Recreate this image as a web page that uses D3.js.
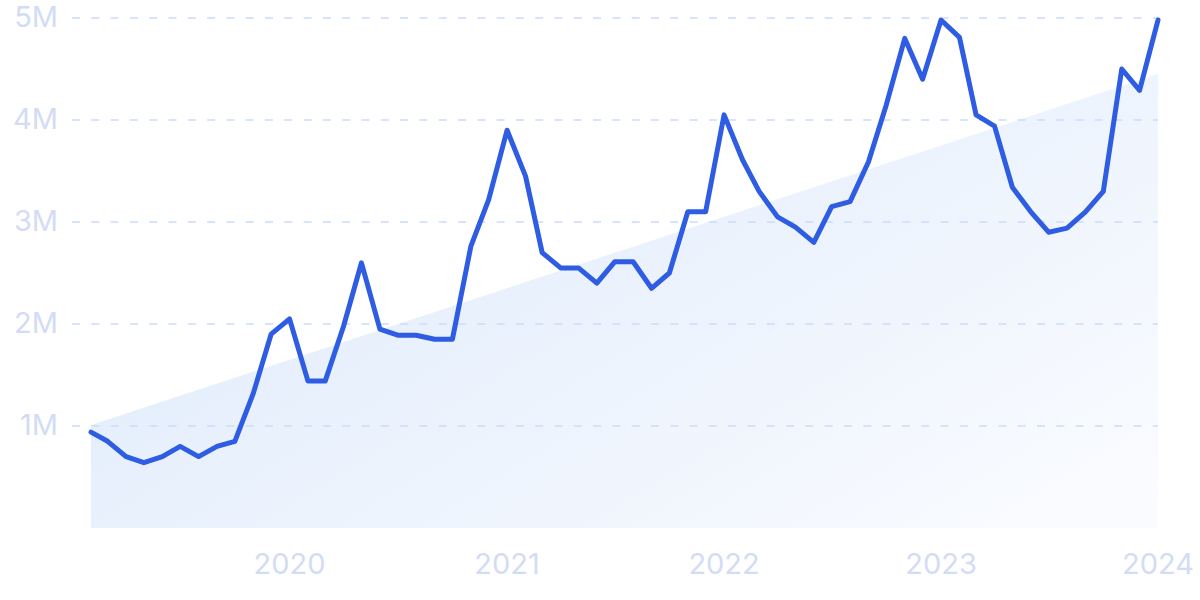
<!DOCTYPE html>
<html>
<head>
<meta charset="utf-8">
<script src="https://cdn.jsdelivr.net/npm/d3@7"></script>
<style>
  body { margin: 0; background: #fff; }
  svg { display: block; }
</style>
</head>
<body>
<svg id="drawing_region"></svg>
<script>
// monthly values, Feb 2019 .. Jan 2024 (millions)
const startMonth = new Date(2019, 1, 1);
const values = [
  0.94, 0.85, 0.70, 0.64, 0.70, 0.80, 0.70, 0.80, 0.85, 1.32, 1.90, 2.05,
  1.44, 1.44, 1.98, 2.60, 1.95, 1.89, 1.89, 1.85, 1.85, 2.76, 3.22, 3.90,
  3.45, 2.70, 2.55, 2.55, 2.40, 2.61, 2.61, 2.35, 2.50, 3.10, 3.10, 4.05,
  3.61, 3.30, 3.05, 2.95, 2.80, 3.15, 3.20, 3.59, 4.15, 4.80, 4.40, 4.98,
  4.81, 4.05, 3.94, 3.34, 3.10, 2.90, 2.94, 3.10, 3.30, 4.50, 4.29, 4.98
];
// trend line, start and end value (millions)
const trend = [1.01, 4.45];
const yTicks = [1, 2, 3, 4, 5];
const yTickLabels = ["1M", "2M", "3M", "4M", "5M"];
const xTicks = [2020, 2021, 2022, 2023, 2024];

const data = values.map((v, i) => ({
  date: d3.timeMonth.offset(startMonth, i),
  value: v
}));

const width = 1200, height = 600;
const margin = { left: 91, right: 42, top: 18, bottom: 72 };

const svg = d3.select('#drawing_region')
  .attr('width', width)
  .attr('height', height);

const x = d3.scaleTime()
  .domain([data[0].date, data[data.length - 1].date])
  .range([margin.left, width - margin.right]);

const y = d3.scaleLinear()
  .domain([0, 5])
  .range([height - margin.bottom, margin.top]);

// gradient for the trend area
const defs = svg.append('defs');
const grad = defs.append('linearGradient')
  .attr('id', 'trendFill')
  .attr('x1', '0').attr('y1', '0.3')
  .attr('x2', '1').attr('y2', '1');
grad.append('stop').attr('offset', '0%').attr('stop-color', '#dfebfb');
grad.append('stop').attr('offset', '100%').attr('stop-color', '#fbfcff');

const first = data[0].date, last = data[data.length - 1].date;
const trendData = [
  { date: first, value: trend[0] },
  { date: last, value: trend[1] }
];

const area = d3.area()
  .x(d => x(d.date))
  .y0(y(0))
  .y1(d => y(d.value));

svg.append('path')
  .datum(trendData)
  .attr('d', area)
  .attr('fill', 'url(#trendFill)');

// grid lines
svg.append('g')
  .selectAll('line')
  .data(yTicks)
  .join('line')
  .attr('x1', 72)
  .attr('x2', width - margin.right)
  .attr('y1', d => y(d))
  .attr('y2', d => y(d))
  .attr('stroke', '#cbdcfa')
  .attr('stroke-width', 1.5)
  .attr('stroke-dasharray', '8,11.3');

// y labels
svg.append('g')
  .selectAll('text')
  .data(yTicks)
  .join('text')
  .attr('x', 58)
  .attr('y', d => y(d))
  .attr('dy', '0.3em')
  .attr('text-anchor', 'end')
  .attr('font-family', 'Inter, sans-serif')
  .attr('font-size', 29)
  .attr('fill', '#d3dcf5')
  .text((d, i) => yTickLabels[i]);

// x labels
svg.append('g')
  .selectAll('text')
  .data(xTicks)
  .join('text')
  .attr('x', d => x(new Date(d, 0, 1)))
  .attr('y', 564)
  .attr('dy', '0.36em')
  .attr('text-anchor', 'middle')
  .attr('font-family', 'Inter, sans-serif')
  .attr('font-size', 29)
  .attr('fill', '#d3dcf5')
  .text(d => d);

// main line
const line = d3.line()
  .x(d => x(d.date))
  .y(d => y(d.value));

svg.append('path')
  .datum(data)
  .attr('d', line)
  .attr('fill', 'none')
  .attr('stroke', '#2e5de3')
  .attr('stroke-width', 5)
  .attr('stroke-linejoin', 'round')
  .attr('stroke-linecap', 'round');
</script>
</body>
</html>
